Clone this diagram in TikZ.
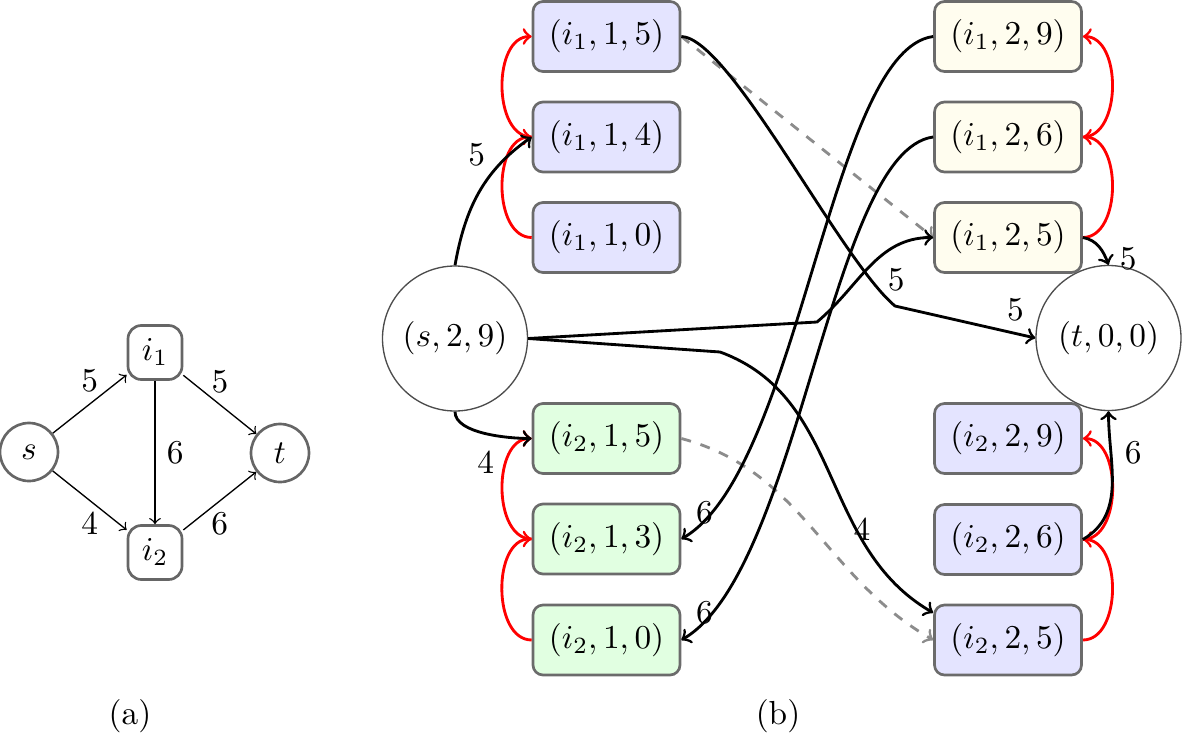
\documentclass[tikz,border=0pt]{standalone}
\definecolor{bfill}{RGB}{228,228,255}
\definecolor{gfill}{RGB}{225,255,225}
\definecolor{yfill}{RGB}{255,253,239}
\begin{document}
\begin{tikzpicture}[x=0.3pt,y=0.3pt,
  bbox/.style={draw=black!58, line width=0.8pt, rounded corners=3pt, minimum width=44.1pt, minimum height=21pt, inner sep=0pt},
  cnode/.style={circle, draw=black!70, line width=0.4pt, minimum size=43.5pt, inner sep=0pt},
  edge/.style={->, line width=0.85pt},
  redge/.style={->, red, line width=0.85pt},
  dedge/.style={->, dashed, black!45, line width=0.85pt},
  snode/.style={circle, draw=black!60, line width=0.8pt, minimum size=17.4pt, inner sep=0pt},
  sbox/.style={draw=black!60, line width=0.8pt, rounded corners=4pt, minimum size=16.2pt, inner sep=0pt},
  aedge/.style={->, line width=0.4pt}
]
\useasboundingbox (0,0) rectangle (1182,-734);

% ---------- (a) ----------
\node[snode] (as) at (29,-452) {$s$};
\node[snode] (at) at (280,-453) {$t$};
\node[sbox] (ai1) at (155,-352.5) {$i_1$};
\node[sbox] (ai2) at (155,-552.5) {$i_2$};
\draw[aedge] (as) -- node[above]{5} (ai1);
\draw[aedge] (as) -- node[below]{4} (ai2);
\draw[aedge] (ai1) -- node[above]{5} (at);
\draw[aedge] (ai2) -- node[below]{6} (at);
\draw[aedge] (ai1) -- node[right]{6} (ai2);
\node (capa) at (130,-716) {(a)};

% ---------- (b) ----------
\node[cnode] (s) at (455,-338.5) {$(s,2,9)$};
\node[cnode] (t) at (1108.5,-338) {$(t,0,0)$};

\node[bbox, fill=bfill] (i115) at (606.5,-36.5) {$(i_1,1,5)$};
\node[bbox, fill=bfill] (i114) at (606.5,-137) {$(i_1,1,4)$};
\node[bbox, fill=bfill] (i110) at (606.5,-237.5) {$(i_1,1,0)$};
\node[bbox, fill=gfill] (i215) at (606.5,-438.5) {$(i_2,1,5)$};
\node[bbox, fill=gfill] (i213) at (606.5,-539) {$(i_2,1,3)$};
\node[bbox, fill=gfill] (i210) at (606.5,-640) {$(i_2,1,0)$};

\node[bbox, fill=yfill] (i129) at (1008,-36.5) {$(i_1,2,9)$};
\node[bbox, fill=yfill] (i126) at (1008,-137) {$(i_1,2,6)$};
\node[bbox, fill=yfill] (i125) at (1008,-237.5) {$(i_1,2,5)$};
\node[bbox, fill=bfill] (i229) at (1008,-438.5) {$(i_2,2,9)$};
\node[bbox, fill=bfill] (i226) at (1008,-539.5) {$(i_2,2,6)$};
\node[bbox, fill=bfill] (i225) at (1008,-640) {$(i_2,2,5)$};

\node (capb) at (778,-716) {(b)};

\coordinate (k1) at (817,-322);
\coordinate (k2) at (895,-306);
\coordinate (k3) at (720,-352);

% red chains
\draw[redge] (i110.west) to[out=180,in=180] (i114.west);
\draw[redge] (i114.west) to[out=180,in=180] (i115.west);
\draw[redge] (i210.west) to[out=180,in=180] (i213.west);
\draw[redge] (i213.west) to[out=180,in=180] (i215.west);
\draw[redge] (i125.east) to[out=0,in=0] (i126.east);
\draw[redge] (i126.east) to[out=0,in=0] (i129.east);
\draw[redge] (i225.east) to[out=0,in=0] (i226.east);
\draw[redge] (i226.east) to[out=0,in=0] (i229.east);

% dashed
\draw[dedge] (i115.east) -- (i125.west);
\draw[dedge] (i215.east) to[out=-15,in=150] (i225.west);

% black
\draw[edge] (s.north) to[out=80,in=215] node[pos=1,xshift=-16.5pt,yshift=-5.4pt]{5} (i114.west);
\draw[edge] (s.south) to[out=-90,in=180,looseness=0.7] node[pos=1,xshift=-13.8pt,yshift=-7.2pt]{4} (i215.west);
\draw[edge] (s.east) -- (k1) to[out=40,in=180] node[pos=1,xshift=-11.1pt,yshift=-12.6pt]{5} (i125.west);
\draw[edge] (s.east) -- (k3) to[out=-20,in=150] node[pos=0.65,xshift=3pt,yshift=-2.5pt]{4} (i225.160);
\draw[edge] (i115.east) .. controls (730,-38) and (840,-260) .. (k2) -- (t.west) node[pos=1,xshift=-6pt,yshift=8.4pt]{5};
\draw[edge] (i129.west) .. controls (830,-50) and (800,-470) .. (i213.east) node[pos=1,xshift=6.9pt,yshift=7.8pt]{6};
\draw[edge] (i126.west) .. controls (830,-151) and (800,-571) .. (i210.east) node[pos=1,xshift=6.9pt,yshift=8.1pt]{6};
\draw[edge] (i125.east) to[out=-10,in=110] node[pos=1,xshift=5.9pt,yshift=1.8pt]{5} (t.north);
\draw[edge] (i226.east) to[out=30,in=-90] node[pos=1,xshift=7.4pt,yshift=-12.6pt]{6} (t.south);
\end{tikzpicture}
\end{document}
